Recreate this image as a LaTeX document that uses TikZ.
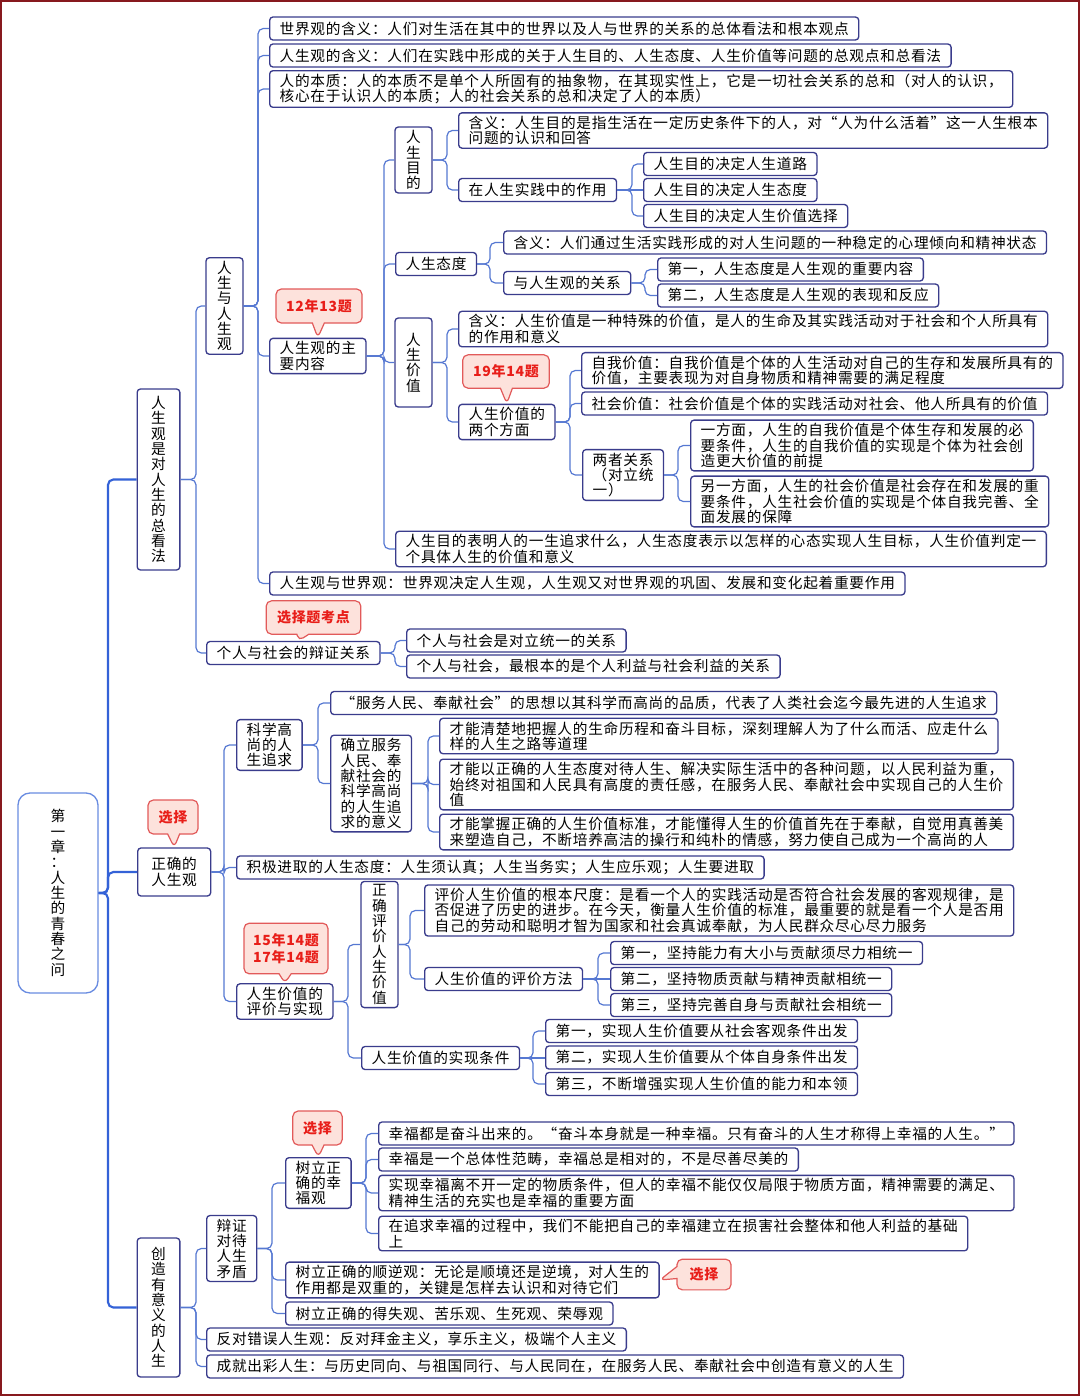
\documentclass[tikz,border=0pt]{standalone}
\usepackage{fontspec}
\setmainfont[LetterSpace=5]{Noto Sans CJK SC}
\usetikzlibrary{shapes.callouts}
\definecolor{boxc}{RGB}{58,60,140}
\definecolor{lnc}{RGB}{86,120,210}
\definecolor{trc}{RGB}{52,98,215}
\definecolor{rootc}{RGB}{105,140,225}
\definecolor{calb}{RGB}{226,90,90}
\definecolor{calf}{RGB}{253,226,220}
\definecolor{calt}{RGB}{232,30,25}
\definecolor{framec}{RGB}{135,25,30}
\newcommand\mytxt{\fontsize{11pt}{11.5pt}\selectfont\lineskiplimit=-20pt\relax}
\newcommand\mybold{\fontsize{10.5pt}{13pt}\selectfont\bfseries}
\newcommand\lk[3]{\draw[conn] (#1.east) -- (#2 |- #1.east) |- (#3.west);}
\newcommand\lks[2]{\draw[conn] (#1.east) -- (#1.east -| #2.west);}
\begin{document}
\begin{tikzpicture}[x=0.75pt,y=-0.75pt]
\tikzset{
 bx/.style={draw=boxc, line width=1pt, rounded corners=2.5pt, fill=white, inner xsep=7.5pt, inner ysep=2.4pt, minimum height=17.25pt, align=left, font=\mytxt},
 bxw/.style={bx, anchor=west},
 vbx/.style={bx, align=center, inner xsep=2pt, minimum width=27.75pt},
 rootbox/.style={draw=rootc, line width=1pt, rounded corners=9pt, fill=white, minimum width=60pt, minimum height=150pt, align=center, font=\mytxt},
 co/.style={rectangle callout, draw=calb, fill=calf, text=calt, line width=0.9pt, rounded corners=4pt, font=\mybold, align=center, callout pointer width=9pt, inner sep=1pt},
 conn/.style={draw=lnc, line width=0.9pt, rounded corners=4pt},
 trunk/.style={draw=trc, line width=1.6pt, rounded corners=4pt}
}
\useasboundingbox (0,0) rectangle (1080,1396);
\fill[white] (0,0) rectangle (1080,1396);
\draw[framec,line width=1.5pt] (1,1) rectangle (1079,1395);

% junction x positions
\coordinate (jR) at (108,0);
\coordinate (jA) at (196,0);
\coordinate (jA1) at (258,0);
\coordinate (jA1d) at (384,0);
\coordinate (jD1) at (447,0);
\coordinate (jD1b) at (632,0);
\coordinate (jD2) at (490,0);
\coordinate (jD2b) at (645,0);
\coordinate (jD3) at (447,0);
\coordinate (jD3b) at (570,0);
\coordinate (jE) at (678,0);
\coordinate (jA2) at (395,0);
\coordinate (jB) at (224,0);
\coordinate (jB1) at (318,0);
\coordinate (jB1b) at (428,0);
\coordinate (jB3) at (348,0);
\coordinate (jG1) at (410,0);
\coordinate (jG1b) at (598,0);
\coordinate (jG2) at (533,0);
\coordinate (jC) at (196,0);
\coordinate (jC1) at (272,0);
\coordinate (jH1) at (366,0);

% root and level 1
\node[rootbox] (root) at (58,893) {第\\一\\章\\：\\人\\生\\的\\青\\春\\之\\问};
\node[vbx, minimum width=32pt, minimum height=135.75pt] (A) at (158.5,479.5) {人\\生\\观\\是\\对\\人\\生\\的\\总\\看\\法};
\node[bxw, align=center, minimum width=54.75pt, minimum height=36pt] (B) at (137,872) {正确的\\人生观};
\node[vbx, minimum width=32pt, minimum height=104.25pt] (C) at (158.5,1307.5) {创\\造\\有\\意\\义\\的\\人\\生};

% section A
\node[vbx, minimum height=70.5pt] (A1) at (224.5,306) {人\\生\\与\\人\\生\\观};
\node[bxw] (A2) at (206,653) {个人与社会的辩证关系};
\node[bxw] (A1a) at (269,28.5) {世界观的含义：人们对生活在其中的世界以及人与世界的关系的总体看法和根本观点};
\node[bxw] (A1b) at (269,55.5) {人生观的含义：人们在实践中形成的关于人生目的、人生态度、人生价值等问题的总观点和总看法};
\node[bxw] (A1c) at (269,89) {人的本质：人的本质不是单个人所固有的抽象物，在其现实性上，它是一切社会关系的总和（对人的认识，\\核心在于认识人的本质；人的社会关系的总和决定了人的本质）};
\node[bxw] (A1d) at (269,356) {人生观的主\\要内容};
\node[bxw] (A1e) at (269,583.5) {人生观与世界观：世界观决定人生观，人生观又对世界观的巩固、发展和变化起着重要作用};

\node[vbx, minimum height=49.5pt] (D1) at (413.5,160) {人\\生\\目\\的};
\node[bxw] (D2) at (395,264) {人生态度};
\node[vbx, minimum height=66.75pt] (D3) at (413.5,362.5) {人\\生\\价\\值};
\node[bxw] (D4) at (395,549) {人生目的表明人的一生追求什么，人生态度表示以怎样的心态实现人生目标，人生价值判定一\\个具体人生的价值和意义};

\node[bxw] (D1a) at (458,130.5) {含义：人生目的是指生活在一定历史条件下的人，对“人为什么活着”这一人生根本\\问题的认识和回答};
\node[bxw] (D1b) at (458,190) {在人生实践中的作用};
\node[bxw] (D1b1) at (643,164) {人生目的决定人生道路};
\node[bxw] (D1b2) at (643,190) {人生目的决定人生态度};
\node[bxw] (D1b3) at (643,216) {人生目的决定人生价值选择};

\node[bxw] (D2a) at (503,242.5) {含义：人们通过生活实践形成的对人生问题的一种稳定的心理倾向和精神状态};
\node[bxw] (D2b) at (503,283) {与人生观的关系};
\node[bxw] (D2b1) at (657,269.5) {第一，人生态度是人生观的重要内容};
\node[bxw] (D2b2) at (657,295.5) {第二，人生态度是人生观的表现和反应};

\node[bxw] (D3a) at (458,329) {含义：人生价值是一种特殊的价值，是人的生命及其实践活动对于社会和个人所具有\\的作用和意义};
\node[bxw] (D3b) at (458,422) {人生价值的\\两个方面};
\node[bxw] (D3b1) at (581,370.5) {自我价值：自我价值是个体的人生活动对自己的生存和发展所具有的\\价值，主要表现为对自身物质和精神需要的满足程度};
\node[bxw] (D3b2) at (581,403.5) {社会价值：社会价值是个体的实践活动对社会、他人所具有的价值};
\node[bxw] (D3b3) at (582,475) {两者关系\\（对立统\\一）};
\node[bxw] (E1) at (690,445.5) {一方面，人生的自我价值是个体生存和发展的必\\要条件，人生的自我价值的实现是个体为社会创\\造更大价值的前提};
\node[bxw] (E2) at (690,501.5) {另一方面，人生的社会价值是社会存在和发展的重\\要条件，人生社会价值的实现是个体自我完善、全\\面发展的保障};

\node[bxw] (A2a) at (406,640.5) {个人与社会是对立统一的关系};
\node[bxw] (A2b) at (406,666.5) {个人与社会，最根本的是个人利益与社会利益的关系};

% section B
\node[bxw] (B1) at (236,745) {科学高\\尚的人\\生追求};
\node[bxw] (B2) at (236,867.5) {积极进取的人生态度：人生须认真；人生当务实；人生应乐观；人生要进取};
\node[bxw] (B3) at (236,1001.5) {人生价值的\\评价与实现};

\node[bxw] (B1a) at (330,703) {“服务人民、奉献社会”的思想以其科学而高尚的品质，代表了人类社会迄今最先进的人生追求};
\node[bxw] (B1b) at (330,783.5) {确立服务\\人民、奉\\献社会的\\科学高尚\\的人生追\\求的意义};
\node[bxw] (F1) at (439,736) {才能清楚地把握人的生命历程和奋斗目标，深刻理解人为了什么而活、应走什么\\样的人生之路等道理};
\node[bxw] (F2) at (439,784.5) {才能以正确的人生态度对待人生、解决实际生活中的各种问题，以人民利益为重，\\始终对祖国和人民具有高度的责任感，在服务人民、奉献社会中实现自己的人生价\\值};
\node[bxw] (F3) at (439,832) {才能掌握正确的人生价值标准，才能懂得人生的价值首先在于奉献，自觉用真善美\\来塑造自己，不断培养高洁的操行和纯朴的情感，努力使自己成为一个高尚的人};

\node[vbx, minimum height=93.75pt] (G1) at (379.5,944.5) {正\\确\\评\\价\\人\\生\\价\\值};
\node[bxw] (G2) at (361,1058) {人生价值的实现条件};
\node[bxw] (G1a) at (424,910.5) {评价人生价值的根本尺度：是看一个人的实践活动是否符合社会发展的客观规律，是\\否促进了历史的进步。在今天，衡量人生价值的标准，最重要的就是看一个人是否用\\自己的劳动和聪明才智为国家和社会真诚奉献，为人民群众尽心尽力服务};
\node[bxw] (G1b) at (424,979) {人生价值的评价方法};
\node[bxw] (G1b1) at (610,953) {第一，坚持能力有大小与贡献须尽力相统一};
\node[bxw] (G1b2) at (610,979) {第二，坚持物质贡献与精神贡献相统一};
\node[bxw] (G1b3) at (610,1005) {第三，坚持完善自身与贡献社会相统一};
\node[bxw] (G2a) at (545,1031) {第一，实现人生价值要从社会客观条件出发};
\node[bxw] (G2b) at (545,1057.5) {第二，实现人生价值要从个体自身条件出发};
\node[bxw] (G2c) at (545,1084) {第三，不断增强实现人生价值的能力和本领};

% section C
\node[bxw] (C1) at (206,1248.5) {辩证\\对待\\人生\\矛盾};
\node[bxw] (C2) at (206,1339.5) {反对错误人生观：反对拜金主义，享乐主义，极端个人主义};
\node[bxw] (C3) at (206,1366.5) {成就出彩人生：与历史同向、与祖国同行、与人民同在，在服务人民、奉献社会中创造有意义的人生};
\node[bxw] (H1) at (285,1183) {树立正\\确的幸\\福观};
\node[bxw] (H2) at (285,1280) {树立正确的顺逆观：无论是顺境还是逆境，对人生的\\作用都是双重的，关键是怎样去认识和对待它们};
\node[bxw] (H3) at (285,1313.5) {树立正确的得失观、苦乐观、生死观、荣辱观};
\node[bxw] (H1a) at (378,1133.5) {幸福都是奋斗出来的。“奋斗本身就是一种幸福。只有奋斗的人生才称得上幸福的人生。”};
\node[bxw] (H1b) at (378,1159.5) {幸福是一个总体性范畴，幸福总是相对的，不是尽善尽美的};
\node[bxw] (H1c) at (378,1193) {实现幸福离不开一定的物质条件，但人的幸福不能仅仅局限于物质方面，精神需要的满足、\\精神生活的充实也是幸福的重要方面};
\node[bxw] (H1d) at (378,1233.5) {在追求幸福的过程中，我们不能把自己的幸福建立在损害社会整体和他人利益的基础\\上};

% trunk
\draw[trunk] (root.east) -- (jR |- root.east) |- (A.west);
\draw[trunk] (root.east) -- (jR |- root.east) |- (B.west);
\draw[trunk] (root.east) -- (jR |- root.east) |- (C.west);

% connectors
\lk{A}{jA}{A1} \lk{A}{jA}{A2}
\lk{A1}{jA1}{A1a} \lk{A1}{jA1}{A1b} \lk{A1}{jA1}{A1c} \lk{A1}{jA1}{A1d} \lk{A1}{jA1}{A1e}
\lk{A1d}{jA1d}{D1} \lk{A1d}{jA1d}{D2} \lk{A1d}{jA1d}{D3} \lk{A1d}{jA1d}{D4}
\lk{D1}{jD1}{D1a} \lk{D1}{jD1}{D1b}
\lk{D1b}{jD1b}{D1b1} \lks{D1b}{D1b2} \lk{D1b}{jD1b}{D1b3}
\lk{D2}{jD2}{D2a} \lk{D2}{jD2}{D2b}
\lk{D2b}{jD2b}{D2b1} \lk{D2b}{jD2b}{D2b2}
\lk{D3}{jD3}{D3a} \lk{D3}{jD3}{D3b}
\lk{D3b}{jD3b}{D3b1} \lk{D3b}{jD3b}{D3b2} \lk{D3b}{jD3b}{D3b3}
\lk{D3b3}{jE}{E1} \lk{D3b3}{jE}{E2}
\lk{A2}{jA2}{A2a} \lk{A2}{jA2}{A2b}
\lk{B}{jB}{B1} \lk{B}{jB}{B2} \lk{B}{jB}{B3}
\lk{B1}{jB1}{B1a} \lk{B1}{jB1}{B1b}
\lk{B1b}{jB1b}{F1} \lk{B1b}{jB1b}{F2} \lk{B1b}{jB1b}{F3}
\lk{B3}{jB3}{G1} \lk{B3}{jB3}{G2}
\lk{G1}{jG1}{G1a} \lk{G1}{jG1}{G1b}
\lk{G1b}{jG1b}{G1b1} \lks{G1b}{G1b2} \lk{G1b}{jG1b}{G1b3}
\lk{G2}{jG2}{G2a} \lks{G2}{G2b} \lk{G2}{jG2}{G2c}
\lk{C}{jC}{C1} \lk{C}{jC}{C2} \lk{C}{jC}{C3}
\lk{C1}{jC1}{H1} \lk{C1}{jC1}{H2} \lk{C1}{jC1}{H3}
\lk{H1}{jH1}{H1a} \lk{H1}{jH1}{H1b} \lk{H1}{jH1}{H1c} \lk{H1}{jH1}{H1d}

% callouts
\node[co, minimum width=64.5pt, minimum height=25.5pt, callout absolute pointer={(A1d.north)}] (K1) at (319,306) {12年13题};
\node[co, minimum width=65pt, minimum height=25pt, callout absolute pointer={(D3b.north)}] (K2) at (506,371.5) {19年14题};
\node[co, minimum width=71pt, minimum height=25pt, callout absolute pointer={([xshift=4pt]A2.north)}] (K3) at (313.5,617.5) {选择题考点};
\node[co, minimum width=37.5pt, minimum height=25.5pt, callout absolute pointer={(B.north)}] (K4) at (173,817) {选择};
\node[co, minimum width=63pt, minimum height=38pt, callout absolute pointer={(B3.north)}] (K5) at (286,948.5) {15年14题\\17年14题};
\node[co, minimum width=37pt, minimum height=25.5pt, callout absolute pointer={(H1.north)}] (K6) at (317.5,1128) {选择};
\node[co, minimum width=40.5pt, minimum height=23pt, callout absolute pointer={(H2.east)}] (K7) at (704,1274.5) {选择};
\end{tikzpicture}
\end{document}
